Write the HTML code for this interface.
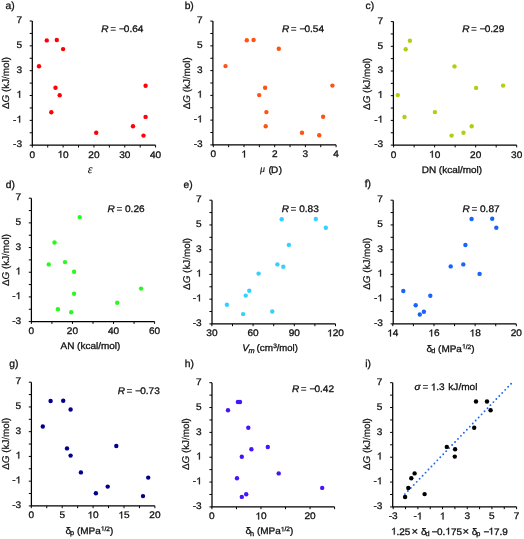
<!DOCTYPE html>
<html><head><meta charset="utf-8"><style>
html,body{margin:0;padding:0;background:#fff;}
body{width:524px;height:539px;overflow:hidden;}
svg{display:block;will-change:transform;text-rendering:geometricPrecision;filter:blur(0.3px);}
text,.g1{fill:#111;stroke:#111;stroke-width:0.3;}
.g1{vector-effect:non-scaling-stroke;}
</style></head><body>
<svg width="524" height="539" viewBox="0 0 524 539" font-family="Liberation Sans, sans-serif">
<rect width="524" height="539" fill="#fff"/>
<path d="M32.30 21.00V145.20H155.60" fill="none" stroke="#000" stroke-width="1.25"/>
<path d="M29.70 21.00H32.30 M29.70 33.42H32.30 M29.70 45.84H32.30 M29.70 58.26H32.30 M29.70 70.68H32.30 M29.70 83.10H32.30 M29.70 95.52H32.30 M29.70 107.94H32.30 M29.70 120.36H32.30 M29.70 132.78H32.30 M29.70 145.20H32.30 M32.30 145.20V147.50 M47.71 145.20V147.50 M63.12 145.20V147.50 M78.54 145.20V147.50 M93.95 145.20V147.50 M109.36 145.20V147.50 M124.77 145.20V147.50 M140.19 145.20V147.50 M155.60 145.20V147.50" fill="none" stroke="#000" stroke-width="1"/>
<text transform="translate(16.39 23.20) scale(1.05 1)" font-size="9.6">7</text>
<text transform="translate(16.39 48.04) scale(1.05 1)" font-size="9.6">5</text>
<text transform="translate(16.39 72.88) scale(1.05 1)" font-size="9.6">3</text>
<path class="g1" d="M0.372 0L0.372 0.716L0.302 0.716C0.283 0.655 0.215 0.592 0.110 0.567L0.110 0.492C0.180 0.507 0.240 0.540 0.283 0.585L0.283 0Z" transform="translate(16.39 97.72) scale(10.080 -9.600)" style="stroke-width:0.3"/>
<text transform="translate(13.04 122.56) scale(1.05 1)" font-size="9.6">-</text>
<path class="g1" d="M0.372 0L0.372 0.716L0.302 0.716C0.283 0.655 0.215 0.592 0.110 0.567L0.110 0.492C0.180 0.507 0.240 0.540 0.283 0.585L0.283 0Z" transform="translate(16.39 122.56) scale(10.080 -9.600)" style="stroke-width:0.3"/>
<text transform="translate(13.04 147.40) scale(1.05 1)" font-size="9.6">-3</text>
<text transform="translate(29.50 157.70) scale(1.05 1)" font-size="9.6">0</text>
<path class="g1" d="M0.372 0L0.372 0.716L0.302 0.716C0.283 0.655 0.215 0.592 0.110 0.567L0.110 0.492C0.180 0.507 0.240 0.540 0.283 0.585L0.283 0Z" transform="translate(57.52 157.70) scale(10.080 -9.600)" style="stroke-width:0.3"/>
<text transform="translate(63.12 157.70) scale(1.05 1)" font-size="9.6">0</text>
<text transform="translate(88.34 157.70) scale(1.05 1)" font-size="9.6">20</text>
<text transform="translate(119.17 157.70) scale(1.05 1)" font-size="9.6">30</text>
<text transform="translate(149.99 157.70) scale(1.05 1)" font-size="9.6">40</text>
<text transform="translate(9.40 83.00) rotate(-90)" text-anchor="middle" font-size="9.85" style="stroke-width:0.2">Δ<tspan font-style="italic">G</tspan> (kJ/mol)</text>
<text transform="translate(5.52 9.10) scale(1.0 1)" font-size="10.3">a)</text>
<text transform="translate(101.29 32.40) scale(1.05 1)" font-size="9.6" font-style="italic">R</text>
<text transform="translate(110.21 32.40) scale(1.05 1)" font-size="9.6" style="stroke-width:0.05">=</text>
<text transform="translate(118.90 32.40) scale(1.05 1)" font-size="9.6">−</text>
<text transform="translate(123.81 32.40) scale(1.05 1)" font-size="9.6">0.64</text>
<circle cx="46.80" cy="40.40" r="2.2" fill="#ff0008"/>
<circle cx="56.80" cy="40.00" r="2.2" fill="#ff0008"/>
<circle cx="63.10" cy="49.10" r="2.2" fill="#ff0008"/>
<circle cx="39.00" cy="66.30" r="2.2" fill="#ff0008"/>
<circle cx="55.50" cy="87.70" r="2.2" fill="#ff0008"/>
<circle cx="59.70" cy="95.20" r="2.2" fill="#ff0008"/>
<circle cx="51.30" cy="112.20" r="2.2" fill="#ff0008"/>
<circle cx="96.20" cy="132.80" r="2.2" fill="#ff0008"/>
<circle cx="145.60" cy="85.70" r="2.2" fill="#ff0008"/>
<circle cx="145.60" cy="116.90" r="2.2" fill="#ff0008"/>
<circle cx="133.00" cy="126.30" r="2.2" fill="#ff0008"/>
<circle cx="143.50" cy="135.60" r="2.2" fill="#ff0008"/>
<path d="M212.90 21.10V144.90H336.10" fill="none" stroke="#000" stroke-width="1.25"/>
<path d="M210.30 21.10H212.90 M210.30 33.48H212.90 M210.30 45.86H212.90 M210.30 58.24H212.90 M210.30 70.62H212.90 M210.30 83.00H212.90 M210.30 95.38H212.90 M210.30 107.76H212.90 M210.30 120.14H212.90 M210.30 132.52H212.90 M210.30 144.90H212.90 M213.30 144.90V147.20 M228.65 144.90V147.20 M244.00 144.90V147.20 M259.35 144.90V147.20 M274.70 144.90V147.20 M290.05 144.90V147.20 M305.40 144.90V147.20 M320.75 144.90V147.20 M336.10 144.90V147.20" fill="none" stroke="#000" stroke-width="1"/>
<text transform="translate(196.99 23.30) scale(1.05 1)" font-size="9.6">7</text>
<text transform="translate(196.99 48.06) scale(1.05 1)" font-size="9.6">5</text>
<text transform="translate(196.99 72.82) scale(1.05 1)" font-size="9.6">3</text>
<path class="g1" d="M0.372 0L0.372 0.716L0.302 0.716C0.283 0.655 0.215 0.592 0.110 0.567L0.110 0.492C0.180 0.507 0.240 0.540 0.283 0.585L0.283 0Z" transform="translate(196.99 97.58) scale(10.080 -9.600)" style="stroke-width:0.3"/>
<text transform="translate(193.64 122.34) scale(1.05 1)" font-size="9.6">-</text>
<path class="g1" d="M0.372 0L0.372 0.716L0.302 0.716C0.283 0.655 0.215 0.592 0.110 0.567L0.110 0.492C0.180 0.507 0.240 0.540 0.283 0.585L0.283 0Z" transform="translate(196.99 122.34) scale(10.080 -9.600)" style="stroke-width:0.3"/>
<text transform="translate(193.64 147.10) scale(1.05 1)" font-size="9.6">-3</text>
<text transform="translate(210.50 157.40) scale(1.05 1)" font-size="9.6">0</text>
<path class="g1" d="M0.372 0L0.372 0.716L0.302 0.716C0.283 0.655 0.215 0.592 0.110 0.567L0.110 0.492C0.180 0.507 0.240 0.540 0.283 0.585L0.283 0Z" transform="translate(241.20 157.40) scale(10.080 -9.600)" style="stroke-width:0.3"/>
<text transform="translate(271.90 157.40) scale(1.05 1)" font-size="9.6">2</text>
<text transform="translate(302.60 157.40) scale(1.05 1)" font-size="9.6">3</text>
<text transform="translate(333.30 157.40) scale(1.05 1)" font-size="9.6">4</text>
<text transform="translate(190.40 83.25) rotate(-90)" text-anchor="middle" font-size="9.85" style="stroke-width:0.2">Δ<tspan font-style="italic">G</tspan> (kJ/mol)</text>
<text transform="translate(184.64 9.00) scale(1.0 1)" font-size="10.3">b)</text>
<text transform="translate(281.89 32.40) scale(1.05 1)" font-size="9.6" font-style="italic">R</text>
<text transform="translate(290.81 32.40) scale(1.05 1)" font-size="9.6" style="stroke-width:0.05">=</text>
<text transform="translate(299.50 32.40) scale(1.05 1)" font-size="9.6">−</text>
<text transform="translate(304.41 32.40) scale(1.05 1)" font-size="9.6">0.54</text>
<circle cx="246.80" cy="40.30" r="2.2" fill="#ff5214"/>
<circle cx="253.60" cy="40.00" r="2.2" fill="#ff5214"/>
<circle cx="278.80" cy="48.80" r="2.2" fill="#ff5214"/>
<circle cx="225.50" cy="66.10" r="2.2" fill="#ff5214"/>
<circle cx="265.10" cy="87.70" r="2.2" fill="#ff5214"/>
<circle cx="259.20" cy="95.10" r="2.2" fill="#ff5214"/>
<circle cx="332.40" cy="85.60" r="2.2" fill="#ff5214"/>
<circle cx="266.40" cy="112.10" r="2.2" fill="#ff5214"/>
<circle cx="323.10" cy="116.80" r="2.2" fill="#ff5214"/>
<circle cx="265.70" cy="126.30" r="2.2" fill="#ff5214"/>
<circle cx="302.00" cy="132.80" r="2.2" fill="#ff5214"/>
<circle cx="319.20" cy="135.30" r="2.2" fill="#ff5214"/>
<path d="M393.40 21.60V145.10H516.70" fill="none" stroke="#000" stroke-width="1.25"/>
<path d="M390.80 21.60H393.40 M390.80 33.95H393.40 M390.80 46.30H393.40 M390.80 58.65H393.40 M390.80 71.00H393.40 M390.80 83.35H393.40 M390.80 95.70H393.40 M390.80 108.05H393.40 M390.80 120.40H393.40 M390.80 132.75H393.40 M390.80 145.10H393.40 M393.60 145.10V147.40 M414.12 145.10V147.40 M434.63 145.10V147.40 M455.15 145.10V147.40 M475.67 145.10V147.40 M496.18 145.10V147.40 M516.70 145.10V147.40" fill="none" stroke="#000" stroke-width="1"/>
<text transform="translate(377.49 23.80) scale(1.05 1)" font-size="9.6">7</text>
<text transform="translate(377.49 48.50) scale(1.05 1)" font-size="9.6">5</text>
<text transform="translate(377.49 73.20) scale(1.05 1)" font-size="9.6">3</text>
<path class="g1" d="M0.372 0L0.372 0.716L0.302 0.716C0.283 0.655 0.215 0.592 0.110 0.567L0.110 0.492C0.180 0.507 0.240 0.540 0.283 0.585L0.283 0Z" transform="translate(377.49 97.90) scale(10.080 -9.600)" style="stroke-width:0.3"/>
<text transform="translate(374.14 122.60) scale(1.05 1)" font-size="9.6">-</text>
<path class="g1" d="M0.372 0L0.372 0.716L0.302 0.716C0.283 0.655 0.215 0.592 0.110 0.567L0.110 0.492C0.180 0.507 0.240 0.540 0.283 0.585L0.283 0Z" transform="translate(377.49 122.60) scale(10.080 -9.600)" style="stroke-width:0.3"/>
<text transform="translate(374.14 147.30) scale(1.05 1)" font-size="9.6">-3</text>
<text transform="translate(390.80 157.60) scale(1.05 1)" font-size="9.6">0</text>
<path class="g1" d="M0.372 0L0.372 0.716L0.302 0.716C0.283 0.655 0.215 0.592 0.110 0.567L0.110 0.492C0.180 0.507 0.240 0.540 0.283 0.585L0.283 0Z" transform="translate(429.03 157.60) scale(10.080 -9.600)" style="stroke-width:0.3"/>
<text transform="translate(434.63 157.60) scale(1.05 1)" font-size="9.6">0</text>
<text transform="translate(470.06 157.60) scale(1.05 1)" font-size="9.6">20</text>
<text transform="translate(511.09 157.60) scale(1.05 1)" font-size="9.6">30</text>
<text transform="translate(370.40 83.90) rotate(-90)" text-anchor="middle" font-size="9.85" style="stroke-width:0.2">Δ<tspan font-style="italic">G</tspan> (kJ/mol)</text>
<text transform="translate(365.56 9.10) scale(1.0 1)" font-size="10.3">c)</text>
<text transform="translate(462.19 32.40) scale(1.05 1)" font-size="9.6" font-style="italic">R</text>
<text transform="translate(471.11 32.40) scale(1.05 1)" font-size="9.6" style="stroke-width:0.05">=</text>
<text transform="translate(479.80 32.40) scale(1.05 1)" font-size="9.6">−</text>
<text transform="translate(484.71 32.40) scale(1.05 1)" font-size="9.6">0.29</text>
<circle cx="409.90" cy="40.80" r="2.2" fill="#b4cd14"/>
<circle cx="405.70" cy="49.30" r="2.2" fill="#b4cd14"/>
<circle cx="454.50" cy="66.40" r="2.2" fill="#b4cd14"/>
<circle cx="397.80" cy="95.10" r="2.2" fill="#b4cd14"/>
<circle cx="476.10" cy="87.90" r="2.2" fill="#b4cd14"/>
<circle cx="503.10" cy="85.60" r="2.2" fill="#b4cd14"/>
<circle cx="404.50" cy="117.00" r="2.2" fill="#b4cd14"/>
<circle cx="434.90" cy="112.10" r="2.2" fill="#b4cd14"/>
<circle cx="471.70" cy="126.30" r="2.2" fill="#b4cd14"/>
<circle cx="463.50" cy="132.80" r="2.2" fill="#b4cd14"/>
<circle cx="451.60" cy="135.60" r="2.2" fill="#b4cd14"/>
<path d="M31.40 198.20V321.60H154.60" fill="none" stroke="#000" stroke-width="1.25"/>
<path d="M28.80 198.20H31.40 M28.80 210.54H31.40 M28.80 222.88H31.40 M28.80 235.22H31.40 M28.80 247.56H31.40 M28.80 259.90H31.40 M28.80 272.24H31.40 M28.80 284.58H31.40 M28.80 296.92H31.40 M28.80 309.26H31.40 M28.80 321.60H31.40 M31.40 321.60V323.90 M51.93 321.60V323.90 M72.47 321.60V323.90 M93.00 321.60V323.90 M113.53 321.60V323.90 M134.07 321.60V323.90 M154.60 321.60V323.90" fill="none" stroke="#000" stroke-width="1"/>
<text transform="translate(15.49 200.40) scale(1.05 1)" font-size="9.6">7</text>
<text transform="translate(15.49 225.08) scale(1.05 1)" font-size="9.6">5</text>
<text transform="translate(15.49 249.76) scale(1.05 1)" font-size="9.6">3</text>
<path class="g1" d="M0.372 0L0.372 0.716L0.302 0.716C0.283 0.655 0.215 0.592 0.110 0.567L0.110 0.492C0.180 0.507 0.240 0.540 0.283 0.585L0.283 0Z" transform="translate(15.49 274.44) scale(10.080 -9.600)" style="stroke-width:0.3"/>
<text transform="translate(12.14 299.12) scale(1.05 1)" font-size="9.6">-</text>
<path class="g1" d="M0.372 0L0.372 0.716L0.302 0.716C0.283 0.655 0.215 0.592 0.110 0.567L0.110 0.492C0.180 0.507 0.240 0.540 0.283 0.585L0.283 0Z" transform="translate(15.49 299.12) scale(10.080 -9.600)" style="stroke-width:0.3"/>
<text transform="translate(12.14 323.80) scale(1.05 1)" font-size="9.6">-3</text>
<text transform="translate(28.60 334.10) scale(1.05 1)" font-size="9.6">0</text>
<text transform="translate(66.86 334.10) scale(1.05 1)" font-size="9.6">20</text>
<text transform="translate(107.93 334.10) scale(1.05 1)" font-size="9.6">40</text>
<text transform="translate(148.99 334.10) scale(1.05 1)" font-size="9.6">60</text>
<text transform="translate(9.30 260.00) rotate(-90)" text-anchor="middle" font-size="9.85" style="stroke-width:0.2">Δ<tspan font-style="italic">G</tspan> (kJ/mol)</text>
<text transform="translate(5.77 187.70) scale(1.0 1)" font-size="10.3">d)</text>
<text transform="translate(107.49 211.80) scale(1.05 1)" font-size="9.6" font-style="italic">R</text>
<text transform="translate(116.41 211.80) scale(1.05 1)" font-size="9.6" style="stroke-width:0.05">=</text>
<text transform="translate(125.01 211.80) scale(1.05 1)" font-size="9.6">0.26</text>
<circle cx="79.70" cy="217.10" r="2.2" fill="#28fa1e"/>
<circle cx="54.50" cy="242.50" r="2.2" fill="#28fa1e"/>
<circle cx="48.80" cy="264.40" r="2.2" fill="#28fa1e"/>
<circle cx="65.00" cy="262.10" r="2.2" fill="#28fa1e"/>
<circle cx="74.10" cy="271.80" r="2.2" fill="#28fa1e"/>
<circle cx="141.10" cy="288.60" r="2.2" fill="#28fa1e"/>
<circle cx="74.10" cy="293.70" r="2.2" fill="#28fa1e"/>
<circle cx="117.20" cy="302.80" r="2.2" fill="#28fa1e"/>
<circle cx="57.90" cy="309.20" r="2.2" fill="#28fa1e"/>
<circle cx="71.20" cy="312.30" r="2.2" fill="#28fa1e"/>
<path d="M212.00 200.20V323.90H335.50" fill="none" stroke="#000" stroke-width="1.25"/>
<path d="M209.40 200.20H212.00 M209.40 212.57H212.00 M209.40 224.94H212.00 M209.40 237.31H212.00 M209.40 249.68H212.00 M209.40 262.05H212.00 M209.40 274.42H212.00 M209.40 286.79H212.00 M209.40 299.16H212.00 M209.40 311.53H212.00 M209.40 323.90H212.00 M211.90 323.90V326.20 M232.50 323.90V326.20 M253.10 323.90V326.20 M273.70 323.90V326.20 M294.30 323.90V326.20 M314.90 323.90V326.20 M335.50 323.90V326.20" fill="none" stroke="#000" stroke-width="1"/>
<text transform="translate(196.09 202.40) scale(1.05 1)" font-size="9.6">7</text>
<text transform="translate(196.09 227.14) scale(1.05 1)" font-size="9.6">5</text>
<text transform="translate(196.09 251.88) scale(1.05 1)" font-size="9.6">3</text>
<path class="g1" d="M0.372 0L0.372 0.716L0.302 0.716C0.283 0.655 0.215 0.592 0.110 0.567L0.110 0.492C0.180 0.507 0.240 0.540 0.283 0.585L0.283 0Z" transform="translate(196.09 276.62) scale(10.080 -9.600)" style="stroke-width:0.3"/>
<text transform="translate(192.74 301.36) scale(1.05 1)" font-size="9.6">-</text>
<path class="g1" d="M0.372 0L0.372 0.716L0.302 0.716C0.283 0.655 0.215 0.592 0.110 0.567L0.110 0.492C0.180 0.507 0.240 0.540 0.283 0.585L0.283 0Z" transform="translate(196.09 301.36) scale(10.080 -9.600)" style="stroke-width:0.3"/>
<text transform="translate(192.74 326.10) scale(1.05 1)" font-size="9.6">-3</text>
<text transform="translate(206.29 336.40) scale(1.05 1)" font-size="9.6">30</text>
<text transform="translate(247.49 336.40) scale(1.05 1)" font-size="9.6">60</text>
<text transform="translate(288.69 336.40) scale(1.05 1)" font-size="9.6">90</text>
<path class="g1" d="M0.372 0L0.372 0.716L0.302 0.716C0.283 0.655 0.215 0.592 0.110 0.567L0.110 0.492C0.180 0.507 0.240 0.540 0.283 0.585L0.283 0Z" transform="translate(327.09 336.40) scale(10.080 -9.600)" style="stroke-width:0.3"/>
<text transform="translate(332.70 336.40) scale(1.05 1)" font-size="9.6">20</text>
<text transform="translate(189.50 263.90) rotate(-90)" text-anchor="middle" font-size="9.85" style="stroke-width:0.2">Δ<tspan font-style="italic">G</tspan> (kJ/mol)</text>
<text transform="translate(183.56 187.80) scale(1.0 1)" font-size="10.3">e)</text>
<text transform="translate(281.69 212.40) scale(1.05 1)" font-size="9.6" font-style="italic">R</text>
<text transform="translate(290.61 212.40) scale(1.05 1)" font-size="9.6" style="stroke-width:0.05">=</text>
<text transform="translate(299.21 212.40) scale(1.05 1)" font-size="9.6">0.83</text>
<circle cx="281.70" cy="219.30" r="2.2" fill="#32d2ff"/>
<circle cx="315.80" cy="219.00" r="2.2" fill="#32d2ff"/>
<circle cx="325.80" cy="227.80" r="2.2" fill="#32d2ff"/>
<circle cx="288.90" cy="244.90" r="2.2" fill="#32d2ff"/>
<circle cx="277.40" cy="264.40" r="2.2" fill="#32d2ff"/>
<circle cx="283.30" cy="266.70" r="2.2" fill="#32d2ff"/>
<circle cx="258.60" cy="273.60" r="2.2" fill="#32d2ff"/>
<circle cx="249.30" cy="290.70" r="2.2" fill="#32d2ff"/>
<circle cx="245.70" cy="295.60" r="2.2" fill="#32d2ff"/>
<circle cx="226.90" cy="304.80" r="2.2" fill="#32d2ff"/>
<circle cx="272.30" cy="311.50" r="2.2" fill="#32d2ff"/>
<circle cx="243.10" cy="314.10" r="2.2" fill="#32d2ff"/>
<path d="M393.20 200.20V323.90H516.30" fill="none" stroke="#000" stroke-width="1.25"/>
<path d="M390.60 200.20H393.20 M390.60 212.57H393.20 M390.60 224.94H393.20 M390.60 237.31H393.20 M390.60 249.68H393.20 M390.60 262.05H393.20 M390.60 274.42H393.20 M390.60 286.79H393.20 M390.60 299.16H393.20 M390.60 311.53H393.20 M390.60 323.90H393.20 M392.80 323.90V326.20 M413.38 323.90V326.20 M433.97 323.90V326.20 M454.55 323.90V326.20 M475.13 323.90V326.20 M495.72 323.90V326.20 M516.30 323.90V326.20" fill="none" stroke="#000" stroke-width="1"/>
<text transform="translate(377.29 202.40) scale(1.05 1)" font-size="9.6">7</text>
<text transform="translate(377.29 227.14) scale(1.05 1)" font-size="9.6">5</text>
<text transform="translate(377.29 251.88) scale(1.05 1)" font-size="9.6">3</text>
<path class="g1" d="M0.372 0L0.372 0.716L0.302 0.716C0.283 0.655 0.215 0.592 0.110 0.567L0.110 0.492C0.180 0.507 0.240 0.540 0.283 0.585L0.283 0Z" transform="translate(377.29 276.62) scale(10.080 -9.600)" style="stroke-width:0.3"/>
<text transform="translate(373.94 301.36) scale(1.05 1)" font-size="9.6">-</text>
<path class="g1" d="M0.372 0L0.372 0.716L0.302 0.716C0.283 0.655 0.215 0.592 0.110 0.567L0.110 0.492C0.180 0.507 0.240 0.540 0.283 0.585L0.283 0Z" transform="translate(377.29 301.36) scale(10.080 -9.600)" style="stroke-width:0.3"/>
<text transform="translate(373.94 326.10) scale(1.05 1)" font-size="9.6">-3</text>
<path class="g1" d="M0.372 0L0.372 0.716L0.302 0.716C0.283 0.655 0.215 0.592 0.110 0.567L0.110 0.492C0.180 0.507 0.240 0.540 0.283 0.585L0.283 0Z" transform="translate(387.19 336.40) scale(10.080 -9.600)" style="stroke-width:0.3"/>
<text transform="translate(392.80 336.40) scale(1.05 1)" font-size="9.6">4</text>
<path class="g1" d="M0.372 0L0.372 0.716L0.302 0.716C0.283 0.655 0.215 0.592 0.110 0.567L0.110 0.492C0.180 0.507 0.240 0.540 0.283 0.585L0.283 0Z" transform="translate(428.36 336.40) scale(10.080 -9.600)" style="stroke-width:0.3"/>
<text transform="translate(433.97 336.40) scale(1.05 1)" font-size="9.6">6</text>
<path class="g1" d="M0.372 0L0.372 0.716L0.302 0.716C0.283 0.655 0.215 0.592 0.110 0.567L0.110 0.492C0.180 0.507 0.240 0.540 0.283 0.585L0.283 0Z" transform="translate(469.53 336.40) scale(10.080 -9.600)" style="stroke-width:0.3"/>
<text transform="translate(475.13 336.40) scale(1.05 1)" font-size="9.6">8</text>
<text transform="translate(510.69 336.40) scale(1.05 1)" font-size="9.6">20</text>
<text transform="translate(370.20 263.80) rotate(-90)" text-anchor="middle" font-size="9.85" style="stroke-width:0.2">Δ<tspan font-style="italic">G</tspan> (kJ/mol)</text>
<text transform="translate(364.75 187.20) scale(1.0 1)" font-size="10.3">f)</text>
<text transform="translate(462.49 212.40) scale(1.05 1)" font-size="9.6" font-style="italic">R</text>
<text transform="translate(471.41 212.40) scale(1.05 1)" font-size="9.6" style="stroke-width:0.05">=</text>
<text transform="translate(480.01 212.40) scale(1.05 1)" font-size="9.6">0.87</text>
<circle cx="471.60" cy="219.00" r="2.2" fill="#1964fa"/>
<circle cx="492.20" cy="218.80" r="2.2" fill="#1964fa"/>
<circle cx="496.30" cy="227.80" r="2.2" fill="#1964fa"/>
<circle cx="465.40" cy="245.05" r="2.2" fill="#1964fa"/>
<circle cx="463.30" cy="264.40" r="2.2" fill="#1964fa"/>
<circle cx="450.70" cy="266.40" r="2.2" fill="#1964fa"/>
<circle cx="479.60" cy="273.90" r="2.2" fill="#1964fa"/>
<circle cx="403.30" cy="291.00" r="2.2" fill="#1964fa"/>
<circle cx="430.30" cy="295.80" r="2.2" fill="#1964fa"/>
<circle cx="415.70" cy="305.20" r="2.2" fill="#1964fa"/>
<circle cx="423.90" cy="311.70" r="2.2" fill="#1964fa"/>
<circle cx="419.80" cy="314.50" r="2.2" fill="#1964fa"/>
<path d="M31.40 382.20V505.90H154.90" fill="none" stroke="#000" stroke-width="1.25"/>
<path d="M28.80 382.20H31.40 M28.80 394.57H31.40 M28.80 406.94H31.40 M28.80 419.31H31.40 M28.80 431.68H31.40 M28.80 444.05H31.40 M28.80 456.42H31.40 M28.80 468.79H31.40 M28.80 481.16H31.40 M28.80 493.53H31.40 M28.80 505.90H31.40 M31.30 505.90V508.20 M46.75 505.90V508.20 M62.20 505.90V508.20 M77.65 505.90V508.20 M93.10 505.90V508.20 M108.55 505.90V508.20 M124.00 505.90V508.20 M139.45 505.90V508.20 M154.90 505.90V508.20" fill="none" stroke="#000" stroke-width="1"/>
<text transform="translate(15.49 384.40) scale(1.05 1)" font-size="9.6">7</text>
<text transform="translate(15.49 409.14) scale(1.05 1)" font-size="9.6">5</text>
<text transform="translate(15.49 433.88) scale(1.05 1)" font-size="9.6">3</text>
<path class="g1" d="M0.372 0L0.372 0.716L0.302 0.716C0.283 0.655 0.215 0.592 0.110 0.567L0.110 0.492C0.180 0.507 0.240 0.540 0.283 0.585L0.283 0Z" transform="translate(15.49 458.62) scale(10.080 -9.600)" style="stroke-width:0.3"/>
<text transform="translate(12.14 483.36) scale(1.05 1)" font-size="9.6">-</text>
<path class="g1" d="M0.372 0L0.372 0.716L0.302 0.716C0.283 0.655 0.215 0.592 0.110 0.567L0.110 0.492C0.180 0.507 0.240 0.540 0.283 0.585L0.283 0Z" transform="translate(15.49 483.36) scale(10.080 -9.600)" style="stroke-width:0.3"/>
<text transform="translate(12.14 508.10) scale(1.05 1)" font-size="9.6">-3</text>
<text transform="translate(28.50 518.40) scale(1.05 1)" font-size="9.6">0</text>
<text transform="translate(59.40 518.40) scale(1.05 1)" font-size="9.6">5</text>
<path class="g1" d="M0.372 0L0.372 0.716L0.302 0.716C0.283 0.655 0.215 0.592 0.110 0.567L0.110 0.492C0.180 0.507 0.240 0.540 0.283 0.585L0.283 0Z" transform="translate(87.49 518.40) scale(10.080 -9.600)" style="stroke-width:0.3"/>
<text transform="translate(93.10 518.40) scale(1.05 1)" font-size="9.6">0</text>
<path class="g1" d="M0.372 0L0.372 0.716L0.302 0.716C0.283 0.655 0.215 0.592 0.110 0.567L0.110 0.492C0.180 0.507 0.240 0.540 0.283 0.585L0.283 0Z" transform="translate(118.39 518.40) scale(10.080 -9.600)" style="stroke-width:0.3"/>
<text transform="translate(124.00 518.40) scale(1.05 1)" font-size="9.6">5</text>
<text transform="translate(149.29 518.40) scale(1.05 1)" font-size="9.6">20</text>
<text transform="translate(9.30 443.80) rotate(-90)" text-anchor="middle" font-size="9.85" style="stroke-width:0.2">Δ<tspan font-style="italic">G</tspan> (kJ/mol)</text>
<text transform="translate(9.37 367.00) scale(1.0 1)" font-size="10.3">g)</text>
<text transform="translate(117.69 393.90) scale(1.05 1)" font-size="9.6" font-style="italic">R</text>
<text transform="translate(126.61 393.90) scale(1.05 1)" font-size="9.6" style="stroke-width:0.05">=</text>
<text transform="translate(135.30 393.90) scale(1.05 1)" font-size="9.6">−</text>
<text transform="translate(140.21 393.90) scale(1.05 1)" font-size="9.6">0.73</text>
<circle cx="50.60" cy="401.00" r="2.2" fill="#00008c"/>
<circle cx="63.20" cy="400.80" r="2.2" fill="#00008c"/>
<circle cx="70.60" cy="409.50" r="2.2" fill="#00008c"/>
<circle cx="42.80" cy="426.50" r="2.2" fill="#00008c"/>
<circle cx="67.00" cy="448.40" r="2.2" fill="#00008c"/>
<circle cx="70.60" cy="455.60" r="2.2" fill="#00008c"/>
<circle cx="116.30" cy="446.00" r="2.2" fill="#00008c"/>
<circle cx="80.90" cy="472.40" r="2.2" fill="#00008c"/>
<circle cx="148.20" cy="477.60" r="2.2" fill="#00008c"/>
<circle cx="107.70" cy="486.60" r="2.2" fill="#00008c"/>
<circle cx="95.90" cy="493.30" r="2.2" fill="#00008c"/>
<circle cx="143.00" cy="496.10" r="2.2" fill="#00008c"/>
<path d="M212.00 382.70V506.90H334.60" fill="none" stroke="#000" stroke-width="1.25"/>
<path d="M209.40 382.70H212.00 M209.40 395.12H212.00 M209.40 407.54H212.00 M209.40 419.96H212.00 M209.40 432.38H212.00 M209.40 444.80H212.00 M209.40 457.22H212.00 M209.40 469.64H212.00 M209.40 482.06H212.00 M209.40 494.48H212.00 M209.40 506.90H212.00 M211.90 506.90V509.20 M236.44 506.90V509.20 M260.98 506.90V509.20 M285.52 506.90V509.20 M310.06 506.90V509.20 M334.60 506.90V509.20" fill="none" stroke="#000" stroke-width="1"/>
<text transform="translate(196.09 384.90) scale(1.05 1)" font-size="9.6">7</text>
<text transform="translate(196.09 409.74) scale(1.05 1)" font-size="9.6">5</text>
<text transform="translate(196.09 434.58) scale(1.05 1)" font-size="9.6">3</text>
<path class="g1" d="M0.372 0L0.372 0.716L0.302 0.716C0.283 0.655 0.215 0.592 0.110 0.567L0.110 0.492C0.180 0.507 0.240 0.540 0.283 0.585L0.283 0Z" transform="translate(196.09 459.42) scale(10.080 -9.600)" style="stroke-width:0.3"/>
<text transform="translate(192.74 484.26) scale(1.05 1)" font-size="9.6">-</text>
<path class="g1" d="M0.372 0L0.372 0.716L0.302 0.716C0.283 0.655 0.215 0.592 0.110 0.567L0.110 0.492C0.180 0.507 0.240 0.540 0.283 0.585L0.283 0Z" transform="translate(196.09 484.26) scale(10.080 -9.600)" style="stroke-width:0.3"/>
<text transform="translate(192.74 509.10) scale(1.05 1)" font-size="9.6">-3</text>
<text transform="translate(209.10 519.40) scale(1.05 1)" font-size="9.6">0</text>
<path class="g1" d="M0.372 0L0.372 0.716L0.302 0.716C0.283 0.655 0.215 0.592 0.110 0.567L0.110 0.492C0.180 0.507 0.240 0.540 0.283 0.585L0.283 0Z" transform="translate(255.37 519.40) scale(10.080 -9.600)" style="stroke-width:0.3"/>
<text transform="translate(260.98 519.40) scale(1.05 1)" font-size="9.6">0</text>
<text transform="translate(304.45 519.40) scale(1.05 1)" font-size="9.6">20</text>
<text transform="translate(189.30 444.10) rotate(-90)" text-anchor="middle" font-size="9.85" style="stroke-width:0.2">Δ<tspan font-style="italic">G</tspan> (kJ/mol)</text>
<text transform="translate(184.79 367.00) scale(1.0 1)" font-size="10.3">h)</text>
<text transform="translate(291.89 391.90) scale(1.05 1)" font-size="9.6" font-style="italic">R</text>
<text transform="translate(300.81 391.90) scale(1.05 1)" font-size="9.6" style="stroke-width:0.05">=</text>
<text transform="translate(309.50 391.90) scale(1.05 1)" font-size="9.6">−</text>
<text transform="translate(314.41 391.90) scale(1.05 1)" font-size="9.6">0.42</text>
<circle cx="237.90" cy="402.00" r="2.2" fill="#4614fa"/>
<circle cx="240.00" cy="402.00" r="2.2" fill="#4614fa"/>
<circle cx="228.00" cy="410.30" r="2.2" fill="#4614fa"/>
<circle cx="248.30" cy="427.80" r="2.2" fill="#4614fa"/>
<circle cx="267.80" cy="447.00" r="2.2" fill="#4614fa"/>
<circle cx="251.40" cy="449.20" r="2.2" fill="#4614fa"/>
<circle cx="241.80" cy="456.70" r="2.2" fill="#4614fa"/>
<circle cx="278.70" cy="473.40" r="2.2" fill="#4614fa"/>
<circle cx="237.00" cy="478.30" r="2.2" fill="#4614fa"/>
<circle cx="322.20" cy="487.90" r="2.2" fill="#4614fa"/>
<circle cx="246.20" cy="494.30" r="2.2" fill="#4614fa"/>
<circle cx="241.80" cy="496.90" r="2.2" fill="#4614fa"/>
<path d="M392.70 382.70V506.90H516.60" fill="none" stroke="#000" stroke-width="1.25"/>
<path d="M390.10 382.70H392.70 M390.10 395.12H392.70 M390.10 407.54H392.70 M390.10 419.96H392.70 M390.10 432.38H392.70 M390.10 444.80H392.70 M390.10 457.22H392.70 M390.10 469.64H392.70 M390.10 482.06H392.70 M390.10 494.48H392.70 M390.10 506.90H392.70 M393.20 506.90V509.20 M405.54 506.90V509.20 M417.88 506.90V509.20 M430.22 506.90V509.20 M442.56 506.90V509.20 M454.90 506.90V509.20 M467.24 506.90V509.20 M479.58 506.90V509.20 M491.92 506.90V509.20 M504.26 506.90V509.20 M516.60 506.90V509.20" fill="none" stroke="#000" stroke-width="1"/>
<text transform="translate(376.79 384.90) scale(1.05 1)" font-size="9.6">7</text>
<text transform="translate(376.79 409.74) scale(1.05 1)" font-size="9.6">5</text>
<text transform="translate(376.79 434.58) scale(1.05 1)" font-size="9.6">3</text>
<path class="g1" d="M0.372 0L0.372 0.716L0.302 0.716C0.283 0.655 0.215 0.592 0.110 0.567L0.110 0.492C0.180 0.507 0.240 0.540 0.283 0.585L0.283 0Z" transform="translate(376.79 459.42) scale(10.080 -9.600)" style="stroke-width:0.3"/>
<text transform="translate(373.44 484.26) scale(1.05 1)" font-size="9.6">-</text>
<path class="g1" d="M0.372 0L0.372 0.716L0.302 0.716C0.283 0.655 0.215 0.592 0.110 0.567L0.110 0.492C0.180 0.507 0.240 0.540 0.283 0.585L0.283 0Z" transform="translate(376.79 484.26) scale(10.080 -9.600)" style="stroke-width:0.3"/>
<text transform="translate(373.44 509.10) scale(1.05 1)" font-size="9.6">-3</text>
<text transform="translate(388.72 519.40) scale(1.05 1)" font-size="9.6">-3</text>
<text transform="translate(413.40 519.40) scale(1.05 1)" font-size="9.6">-</text>
<path class="g1" d="M0.372 0L0.372 0.716L0.302 0.716C0.283 0.655 0.215 0.592 0.110 0.567L0.110 0.492C0.180 0.507 0.240 0.540 0.283 0.585L0.283 0Z" transform="translate(416.76 519.40) scale(10.080 -9.600)" style="stroke-width:0.3"/>
<path class="g1" d="M0.372 0L0.372 0.716L0.302 0.716C0.283 0.655 0.215 0.592 0.110 0.567L0.110 0.492C0.180 0.507 0.240 0.540 0.283 0.585L0.283 0Z" transform="translate(439.76 519.40) scale(10.080 -9.600)" style="stroke-width:0.3"/>
<text transform="translate(464.44 519.40) scale(1.05 1)" font-size="9.6">3</text>
<text transform="translate(489.12 519.40) scale(1.05 1)" font-size="9.6">5</text>
<text transform="translate(513.80 519.40) scale(1.05 1)" font-size="9.6">7</text>
<text transform="translate(369.90 444.10) rotate(-90)" text-anchor="middle" font-size="9.85" style="stroke-width:0.2">Δ<tspan font-style="italic">G</tspan> (kJ/mol)</text>
<text transform="translate(365.21 367.00) scale(1.0 1)" font-size="10.3">i)</text>
<path d="M404.90 494.10L511.10 383.70" stroke="#1a66f0" stroke-width="1.9" stroke-linecap="round" stroke-dasharray="0 4.255" fill="none"/>
<circle cx="476.00" cy="401.50" r="2.2" fill="#000000"/>
<circle cx="487.00" cy="401.50" r="2.2" fill="#000000"/>
<circle cx="490.60" cy="410.30" r="2.2" fill="#000000"/>
<circle cx="474.20" cy="427.80" r="2.2" fill="#000000"/>
<circle cx="446.80" cy="446.90" r="2.2" fill="#000000"/>
<circle cx="455.10" cy="449.20" r="2.2" fill="#000000"/>
<circle cx="454.80" cy="456.60" r="2.2" fill="#000000"/>
<circle cx="414.60" cy="473.40" r="2.2" fill="#000000"/>
<circle cx="411.30" cy="478.30" r="2.2" fill="#000000"/>
<circle cx="408.30" cy="488.00" r="2.2" fill="#000000"/>
<circle cx="424.60" cy="494.10" r="2.2" fill="#000000"/>
<circle cx="405.10" cy="497.00" r="2.2" fill="#000000"/>
<text transform="translate(87.64 172.50) scale(1.0 1)" font-size="12" font-style="italic" font-family="Liberation Serif, serif" style="stroke-width:0.1">ε</text>
<text transform="translate(260.01 172.20) scale(1.0 1)" font-size="10" font-style="italic" font-family="Liberation Serif, serif" style="stroke-width:0.15">μ</text>
<text transform="translate(268.58 172.60) scale(1.05 1)" font-size="9.5">(</text>
<text transform="translate(270.88 172.60) scale(1.05 1)" font-size="9.5">D</text>
<text transform="translate(278.64 172.60) scale(1.05 1)" font-size="9.5">)</text>
<text transform="translate(421.68 172.60) scale(1.05 1)" font-size="9.5">DN (kcal/mol)</text>
<text transform="translate(60.48 349.30) scale(1.05 1)" font-size="9.5">AN (kcal/mol)</text>
<text transform="translate(242.34 351.40) scale(1.05 1)" font-size="9.5" font-style="italic">V</text>
<text transform="translate(248.58 352.60) scale(1.05 1)" font-size="7.0" font-style="italic">m</text>
<text transform="translate(256.58 351.40) scale(1.05 1)" font-size="9.5">(</text>
<text transform="translate(259.78 351.40) scale(1.05 1)" font-size="9.5">cm</text>
<text transform="translate(273.15 347.60) scale(1.05 1)" font-size="6.3">3</text>
<text transform="translate(276.70 351.40) scale(1.0 1)" font-size="9.5">/mol)</text>
<text transform="translate(426.58 351.50) scale(1.05 1)" font-size="9.5">δ</text>
<text transform="translate(431.29 352.70) scale(1.05 1)" font-size="7.0">d</text>
<text transform="translate(438.08 351.50) scale(1.05 1)" font-size="9.5">(MPa</text>
<path class="g1" d="M0.372 0L0.372 0.716L0.302 0.716C0.283 0.655 0.215 0.592 0.110 0.567L0.110 0.492C0.180 0.507 0.240 0.540 0.283 0.585L0.283 0Z" transform="translate(461.97 348.50) scale(6.615 -6.300)" style="stroke-width:0.3"/>
<text transform="translate(465.65 348.50) scale(1.05 1)" font-size="6.3">/2</text>
<text transform="translate(471.14 351.50) scale(1.05 1)" font-size="9.5">)</text>
<text transform="translate(65.38 533.70) scale(1.05 1)" font-size="9.5">δ</text>
<text transform="translate(69.93 534.90) scale(1.05 1)" font-size="7.0">p</text>
<text transform="translate(76.88 533.70) scale(1.05 1)" font-size="9.5">(MPa</text>
<path class="g1" d="M0.372 0L0.372 0.716L0.302 0.716C0.283 0.655 0.215 0.592 0.110 0.567L0.110 0.492C0.180 0.507 0.240 0.540 0.283 0.585L0.283 0Z" transform="translate(100.77 530.70) scale(6.615 -6.300)" style="stroke-width:0.3"/>
<text transform="translate(104.45 530.70) scale(1.05 1)" font-size="6.3">/2</text>
<text transform="translate(109.94 533.70) scale(1.05 1)" font-size="9.5">)</text>
<text transform="translate(245.38 534.40) scale(1.05 1)" font-size="9.5">δ</text>
<text transform="translate(249.89 535.60) scale(1.05 1)" font-size="7.0">h</text>
<text transform="translate(256.88 534.40) scale(1.05 1)" font-size="9.5">(MPa</text>
<path class="g1" d="M0.372 0L0.372 0.716L0.302 0.716C0.283 0.655 0.215 0.592 0.110 0.567L0.110 0.492C0.180 0.507 0.240 0.540 0.283 0.585L0.283 0Z" transform="translate(280.77 531.40) scale(6.615 -6.300)" style="stroke-width:0.3"/>
<text transform="translate(284.45 531.40) scale(1.05 1)" font-size="6.3">/2</text>
<text transform="translate(289.94 534.40) scale(1.05 1)" font-size="9.5">)</text>
<path class="g1" d="M0.372 0L0.372 0.716L0.302 0.716C0.283 0.655 0.215 0.592 0.110 0.567L0.110 0.492C0.180 0.507 0.240 0.540 0.283 0.585L0.283 0Z" transform="translate(391.00 534.60) scale(9.975 -9.500)" style="stroke-width:0.3"/>
<text transform="translate(396.55 534.60) scale(1.05 1)" font-size="9.5">.25</text>
<text transform="translate(411.61 534.90) scale(1.05 1)" font-size="10.8">×</text>
<text transform="translate(420.88 534.60) scale(1.05 1)" font-size="9.5">δ</text>
<text transform="translate(425.49 535.80) scale(1.05 1)" font-size="7.0">d</text>
<text transform="translate(431.81 534.60) scale(1.05 1)" font-size="9.5">−</text>
<text transform="translate(437.01 534.60) scale(1.05 1)" font-size="9.5">0.</text>
<path class="g1" d="M0.372 0L0.372 0.716L0.302 0.716C0.283 0.655 0.215 0.592 0.110 0.567L0.110 0.492C0.180 0.507 0.240 0.540 0.283 0.585L0.283 0Z" transform="translate(445.33 534.60) scale(9.975 -9.500)" style="stroke-width:0.3"/>
<text transform="translate(450.88 534.60) scale(1.05 1)" font-size="9.5">75</text>
<text transform="translate(462.61 534.90) scale(1.05 1)" font-size="10.8">×</text>
<text transform="translate(471.68 534.60) scale(1.05 1)" font-size="9.5">δ</text>
<text transform="translate(476.13 535.80) scale(1.05 1)" font-size="7.0">p</text>
<text transform="translate(483.51 534.60) scale(1.05 1)" font-size="9.5">−</text>
<path class="g1" d="M0.372 0L0.372 0.716L0.302 0.716C0.283 0.655 0.215 0.592 0.110 0.567L0.110 0.492C0.180 0.507 0.240 0.540 0.283 0.585L0.283 0Z" transform="translate(488.40 534.60) scale(9.975 -9.500)" style="stroke-width:0.3"/>
<text transform="translate(493.95 534.60) scale(1.05 1)" font-size="9.5">7.9</text>
<text transform="translate(414.57 390.40) scale(1.05 1)" font-size="9.6" font-style="italic">σ</text>
<text transform="translate(422.51 390.40) scale(1.05 1)" font-size="9.6" style="stroke-width:0.05">=</text>
<path class="g1" d="M0.372 0L0.372 0.716L0.302 0.716C0.283 0.655 0.215 0.592 0.110 0.567L0.110 0.492C0.180 0.507 0.240 0.540 0.283 0.585L0.283 0Z" transform="translate(430.69 390.40) scale(10.080 -9.600)" style="stroke-width:0.3"/>
<text transform="translate(436.30 390.40) scale(1.05 1)" font-size="9.6">.3</text>
<text transform="translate(448.32 390.40) scale(1.05 1)" font-size="9.6">kJ/mol</text>
</svg>
</body></html>
